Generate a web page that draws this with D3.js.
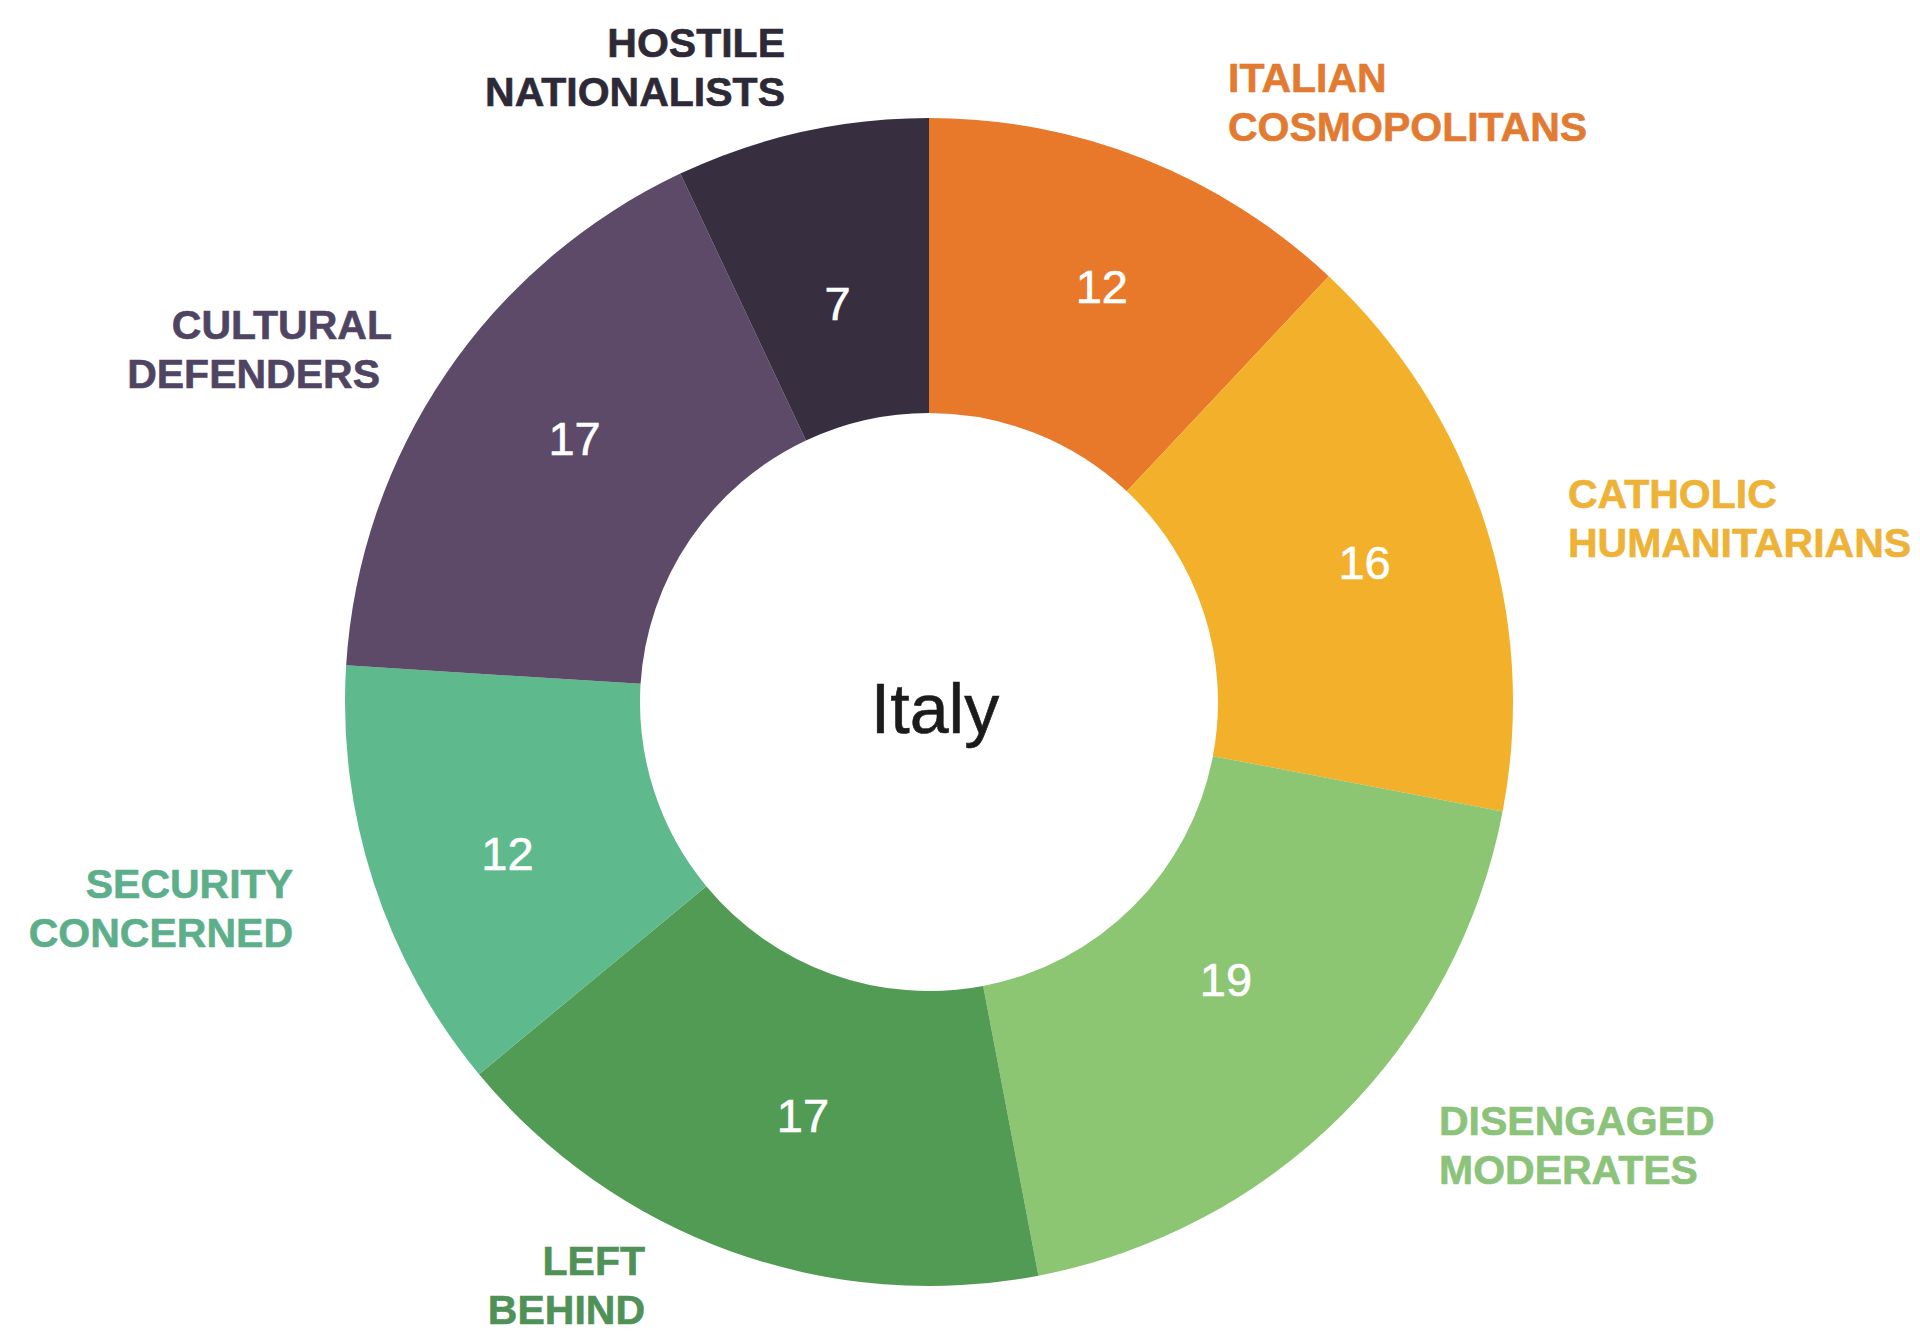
<!DOCTYPE html>
<html>
<head>
<meta charset="utf-8">
<script src="https://cdn.jsdelivr.net/npm/d3@7"></script>
<style>
  html, body { margin: 0; padding: 0; background: #fff; }
  svg { display: block; }
</style>
</head>
<body>
<div id="chart"></div>
<script>
// Segments, clockwise from 12 o'clock
const segments = ['Italian Cosmopolitans', 'Catholic Humanitarians', 'Disengaged Moderates',
    'Left Behind', 'Security Concerned', 'Cultural Defenders', 'Hostile Nationalists'];
const shares = [12, 16, 19, 17, 12, 17, 7];
const labelLines = [
    ['ITALIAN', 'COSMOPOLITANS'],
    ['CATHOLIC', 'HUMANITARIANS'],
    ['DISENGAGED', 'MODERATES'],
    ['LEFT', 'BEHIND'],
    ['SECURITY', 'CONCERNED'],
    ['CULTURAL', 'DEFENDERS'],
    ['HOSTILE', 'NATIONALISTS']
];
const country = 'Italy';

// colours
const sliceColors = ['#e8782a', '#f3b02a', '#8cc673', '#529b55', '#5eb98c', '#5c4a68', '#372e40'];
const textColors = ['#e27b31', '#eeb236', '#8cc37a', '#4f9157', '#5caf8a', '#4f4562', '#2e2936'];

// outside label anchors (x per line, first baseline, alignment)
const labelPos = [
    {x: [1228, 1228], y: 92, anchor: 'start'},
    {x: [1568, 1568], y: 508, anchor: 'start'},
    {x: [1439, 1439], y: 1135, anchor: 'start'},
    {x: [645, 645], y: 1275, anchor: 'end'},
    {x: [293, 293], y: 898, anchor: 'end'},
    {x: [392, 380], y: 339, anchor: 'end'},
    {x: [785, 785], y: 57, anchor: 'end'}
];
// small shifts of the value labels off the arc centroid
const valueNudge = [[12, -9], [20, -4], [-12, -32], [22, 2], [-6, 16], [7, -18], [4, 28]];

const width = 1920, height = 1342;
const cx = 929, cy = 702;
const outerR = 584, innerR = 289;

const svg = d3.select('#chart')
    .append('svg')
    .attr('width', width)
    .attr('height', height);

const pie = d3.pie().sort(null).value(d => d);
const arcs = pie(shares);

const arc = d3.arc().innerRadius(innerR).outerRadius(outerR);
const labelArc = d3.arc().innerRadius(437).outerRadius(437);

const g = svg.append('g').attr('transform', `translate(${cx},${cy})`);

g.selectAll('path')
    .data(arcs)
    .join('path')
    .attr('d', arc)
    .attr('fill', (d, i) => sliceColors[i]);

g.selectAll('text.value')
    .data(arcs)
    .join('text')
    .attr('class', 'value')
    .attr('transform', (d, i) => {
        const [x, y] = labelArc.centroid(d);
        return `translate(${x + valueNudge[i][0]},${y + valueNudge[i][1]})`;
    })
    .attr('text-anchor', 'middle')
    .attr('dominant-baseline', 'central')
    .attr('fill', '#fff')
    .attr('stroke', '#fff')
    .attr('stroke-width', 0.6)
    .style('font-family', '"Liberation Sans", Arial, sans-serif')
    .style('font-size', '47px')
    .text(d => d.data);

// centre title
svg.append('text')
    .attr('x', cx + 6)
    .attr('y', 733)
    .attr('text-anchor', 'middle')
    .attr('fill', '#1b1b1b')
    .attr('stroke', '#1b1b1b')
    .attr('stroke-width', 0.6)
    .style('font-family', '"Liberation Sans", Arial, sans-serif')
    .style('font-size', '70px')
    .text(country);

// segment names
const names = svg.selectAll('text.name')
    .data(segments)
    .join('text')
    .attr('class', 'name')
    .attr('y', (d, i) => labelPos[i].y)
    .attr('text-anchor', (d, i) => labelPos[i].anchor)
    .attr('fill', (d, i) => textColors[i])
    .attr('stroke', (d, i) => textColors[i])
    .attr('stroke-width', 0.6)
    .style('font-family', '"Liberation Sans", Arial, sans-serif')
    .style('font-weight', 'bold')
    .style('font-size', '41px');

names.each(function(d, i) {
    d3.select(this).selectAll('tspan')
        .data(labelLines[i])
        .join('tspan')
        .attr('x', (t, j) => labelPos[i].x[j])
        .attr('dy', (t, j) => j === 0 ? 0 : 49)
        .text(t => t);
});
</script>
</body>
</html>
